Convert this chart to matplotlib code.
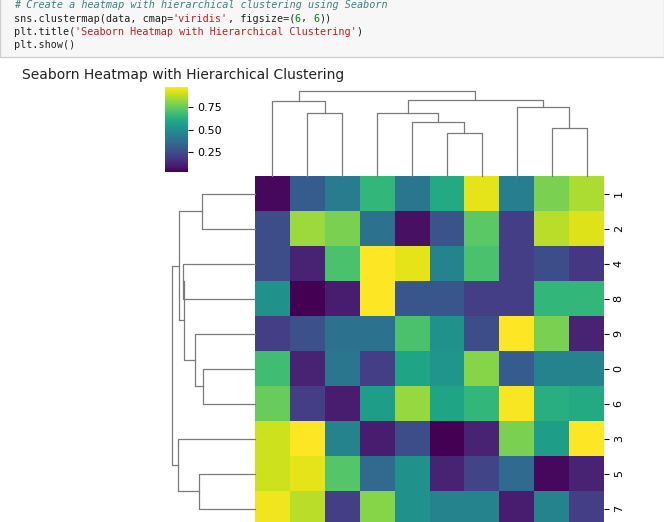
import matplotlib.pyplot as plt
import matplotlib.patches as patches
import numpy as np

# heatmap values in displayed (clustered) order
row_labels = ["1", "2", "4", "8", "9", "0", "6", "3", "5", "7"]
values = np.array([
    [0.05, 0.30, 0.42, 0.65, 0.40, 0.60, 0.93, 0.43, 0.78, 0.85],
    [0.25, 0.83, 0.78, 0.38, 0.07, 0.27, 0.73, 0.20, 0.87, 0.92],
    [0.25, 0.12, 0.70, 0.97, 0.93, 0.45, 0.70, 0.20, 0.25, 0.18],
    [0.50, 0.03, 0.10, 0.97, 0.28, 0.28, 0.20, 0.20, 0.65, 0.65],
    [0.20, 0.26, 0.38, 0.38, 0.70, 0.50, 0.25, 0.97, 0.78, 0.12],
    [0.68, 0.12, 0.40, 0.20, 0.58, 0.52, 0.80, 0.30, 0.45, 0.45],
    [0.75, 0.20, 0.10, 0.55, 0.82, 0.58, 0.65, 0.96, 0.62, 0.60],
    [0.90, 0.97, 0.45, 0.10, 0.25, 0.03, 0.12, 0.78, 0.55, 0.97],
    [0.90, 0.93, 0.72, 0.35, 0.50, 0.12, 0.22, 0.35, 0.05, 0.12],
    [0.95, 0.87, 0.20, 0.80, 0.50, 0.45, 0.45, 0.10, 0.45, 0.20],
])

# linkage: (left id, right id, height); leaves are 0..9 in display order
col_merges = [(1, 2, 63), (5, 6, 43), (4, 11, 54), (3, 12, 63), (8, 9, 48),
              (7, 14, 69), (0, 10, 75), (13, 15, 76), (16, 17, 85)]
row_merges = [(0, 1, 53), (2, 3, 72), (5, 6, 52), (4, 12, 60), (11, 13, 71),
              (10, 14, 76), (8, 9, 56), (7, 16, 77), (15, 17, 83)]

code_lines = [
    [("# Create a heatmap with hierarchical clustering using Seaborn", "#408080", "italic")],
    [("sns.clustermap(data, cmap=", "#222", "normal"), ("'viridis'", "#ba2121", "normal"),
     (", figsize=(", "#222", "normal"), ("6", "#008800", "normal"), (", ", "#222", "normal"),
     ("6", "#008800", "normal"), ("))", "#222", "normal")],
    [("plt.title(", "#222", "normal"), ("'Seaborn Heatmap with Hierarchical Clustering'", "#ba2121", "normal"),
     (")", "#222", "normal")],
    [("plt.show()", "#222", "normal")],
]

W, H = 664, 522
fig = plt.figure(figsize=(W / 100, H / 100), dpi=100)


def box(x0, y0, x1, y1):
    return [x0 / W, 1 - y1 / H, (x1 - x0) / W, (y1 - y0) / H]


# code cell
fig.patches.append(patches.Rectangle((0, 1 - 57 / H), 1, 60 / H, transform=fig.transFigure,
                                     facecolor="#f7f7f7", edgecolor="#cfcfcf", lw=1))
code_size = 7.3
char_w = code_size * 100 / 72 * 0.602  # monospace advance, px
for i, segs in enumerate(code_lines):
    col_pos = 0
    for txt, col, style in segs:
        fig.text((14 + col_pos * char_w) / W, 1 - (5 + 13.5 * i) / H, txt, color=col, style=style,
                 family="DejaVu Sans Mono", fontsize=code_size, va="center")
        col_pos += len(txt)

fig.text(22 / W, 1 - 75 / H, "Seaborn Heatmap with Hierarchical Clustering",
         fontsize=10, va="center", color="#222")

# heatmap
ax = fig.add_axes(box(255, 176, 604, 526))
mesh = ax.pcolormesh(values, cmap="viridis", vmin=values.min(), vmax=values.max())
ax.set_xlim(0, 10)
ax.set_ylim(10, 0)
ax.set_xticks([])
ax.yaxis.tick_right()
ax.set_yticks(np.arange(10) + 0.5)
ax.set_yticklabels(row_labels, rotation=90, va="center", fontsize=8)
ax.tick_params(axis="y", length=3.5, width=0.8)
for s in ax.spines.values():
    s.set_visible(False)


def draw_dendro(axd, merges, n, vertical):
    pos = {i: i + 0.5 for i in range(n)}
    hgt = {i: 0.0 for i in range(n)}
    for k, (a, b, h) in enumerate(merges):
        xs = [pos[a], pos[a], pos[b], pos[b]]
        ys = [hgt[a], h, h, hgt[b]]
        if vertical:
            axd.plot(xs, ys, color="#7a7a7a", lw=0.9, clip_on=False)
        else:
            axd.plot(ys, xs, color="#7a7a7a", lw=0.9, clip_on=False)
        pos[n + k] = (pos[a] + pos[b]) / 2
        hgt[n + k] = h
    axd.set_axis_off()


axc = fig.add_axes(box(255, 91, 604, 176))
draw_dendro(axc, col_merges, 10, True)
axc.set_xlim(0, 10)
axc.set_ylim(0, 85)

axr = fig.add_axes(box(172, 176, 255, 526))
draw_dendro(axr, row_merges, 10, False)
axr.set_ylim(10, 0)
axr.set_xlim(83, 0)

# colorbar
cax = fig.add_axes(box(165, 87, 188, 172))
cb = fig.colorbar(mesh, cax=cax, ticks=[0.25, 0.5, 0.75])
cb.outline.set_visible(False)
cax.tick_params(labelsize=8, length=3.5, width=0.8)

fig.savefig("out.png", dpi=100)
